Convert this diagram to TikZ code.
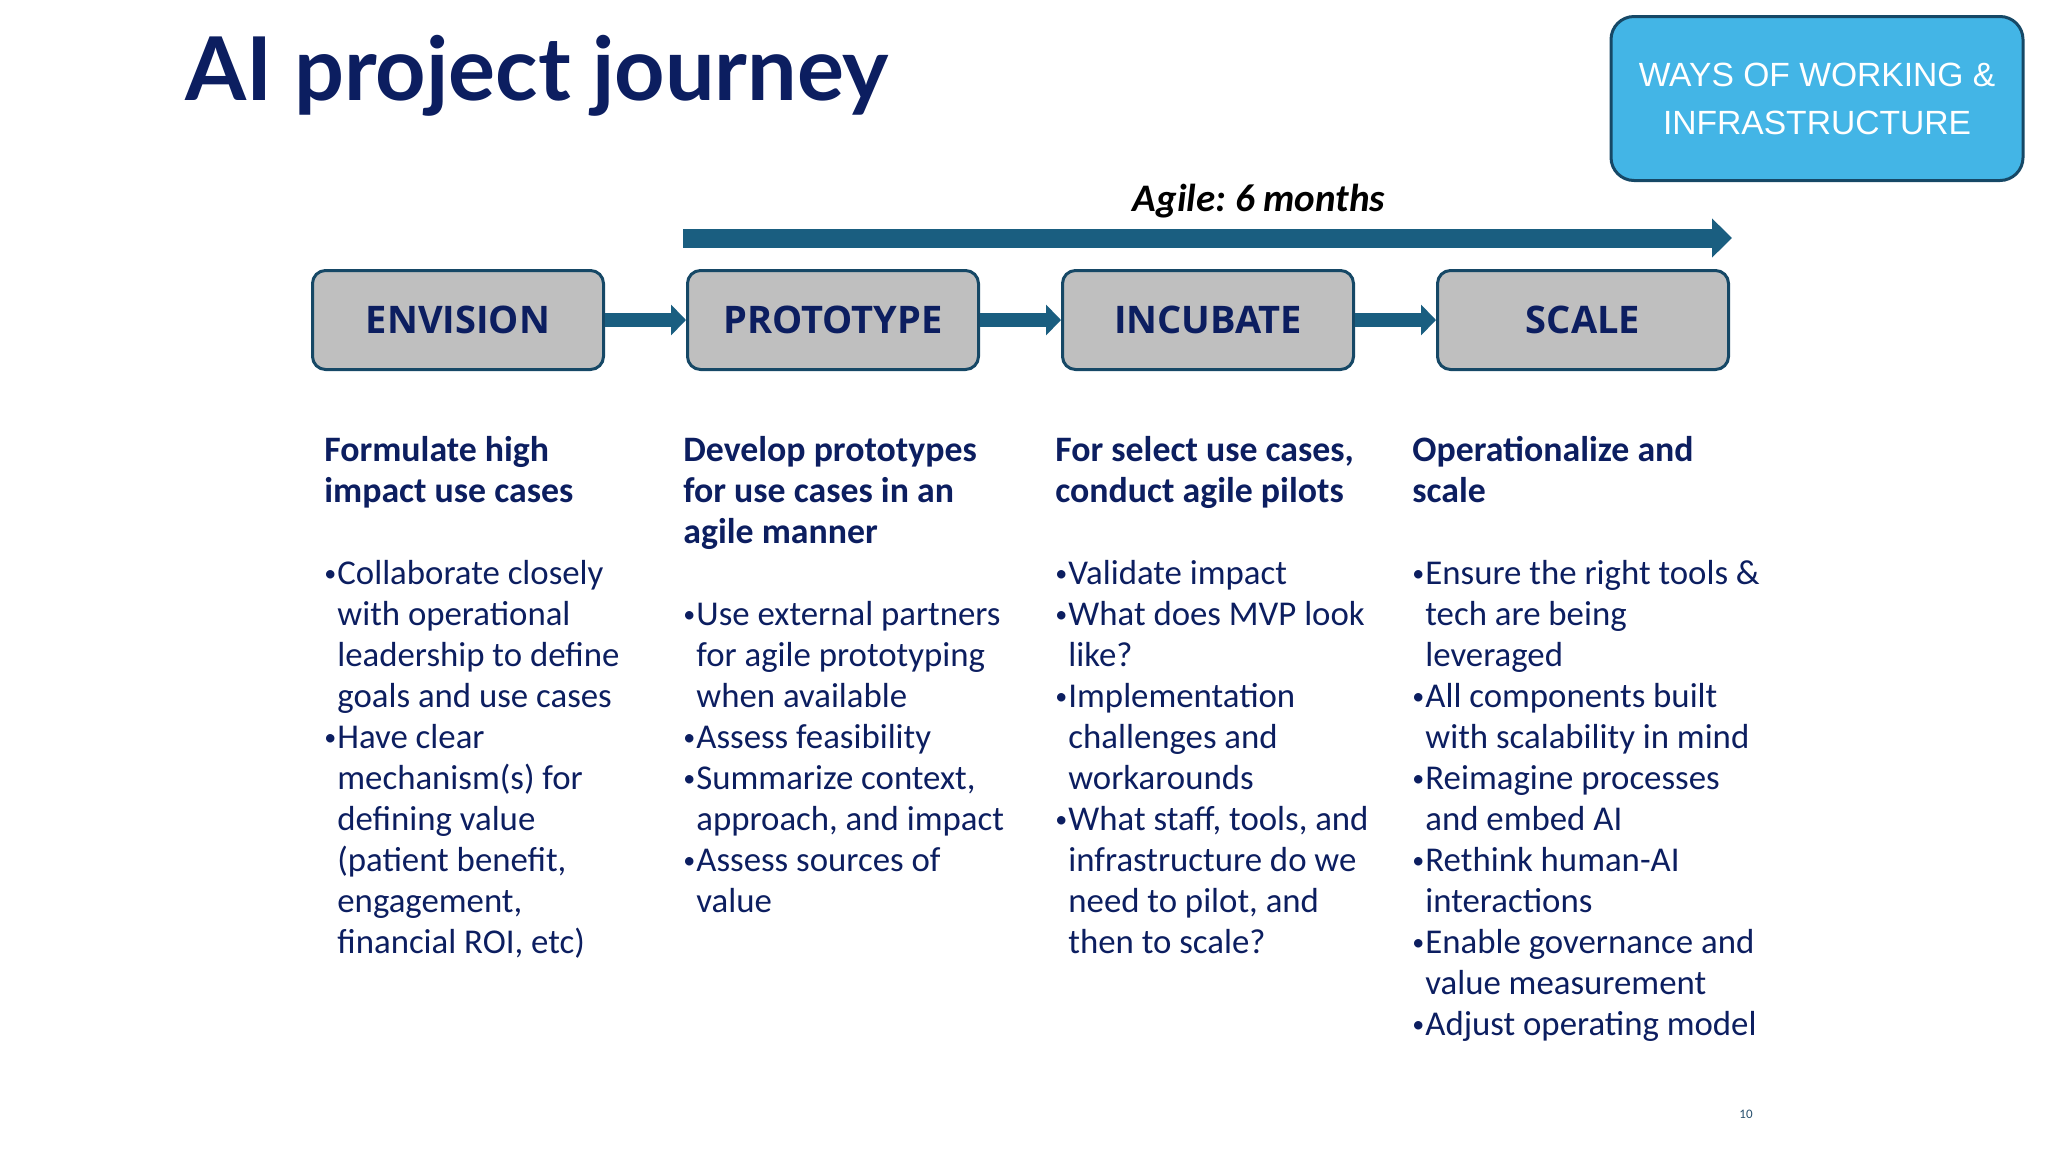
\documentclass[tikz,border=0pt]{standalone}
\usepackage{fontspec}
\setmainfont{Carlito}
\newfontfamily\titlefont{Lato}
\newfontfamily\boxfont{Open Sans}
\newfontfamily\wayfont{Liberation Sans}
\usetikzlibrary{positioning, arrows.meta}
\definecolor{navy}{RGB}{12,30,96}
\definecolor{edgeteal}{RGB}{22,72,102}
\definecolor{flowblue}{RGB}{26,94,128}
\definecolor{boxgray}{RGB}{191,191,191}
\definecolor{skyblue}{RGB}{67,181,230}
\definecolor{pagegray}{RGB}{40,80,110}
\tikzstyle{phase}=[draw=edgeteal, fill=boxgray, line width=1.5pt, rounded corners=6.5pt,
  minimum width=145.5pt, minimum height=49.5pt, text=navy,
  font=\boxfont\bfseries\fontsize{19}{22}\selectfont]
\tikzstyle{ways}=[draw=edgeteal, fill=skyblue, line width=1.5pt, rounded corners=11.5pt,
  minimum width=206pt, minimum height=82pt, align=center, text=white,
  font=\wayfont\fontsize{16.8}{24}\selectfont]
\tikzstyle{flow}=[draw=flowblue, line width=7pt, -{Triangle[length=7.5pt, width=15pt]}]
\tikzstyle{bigflow}=[draw=flowblue, line width=9.5pt, -{Triangle[length=10pt, width=19pt]}]
\tikzstyle{col}=[anchor=north west, align=left, inner sep=0pt, text=navy,
  font=\fontsize{17.4}{20.5}\selectfont]
\newcommand{\bul}{\makebox[6.5pt][l]{\raisebox{1.2pt}{\fontsize{12}{12}\selectfont\textbullet}}}
\newcommand{\ind}{\hspace*{6.5pt}}
\newcommand{\hd}[1]{{\bfseries\fontsize{17.9}{20.5}\selectfont #1}}

\begin{document}
\begin{tikzpicture}[x=0.5pt, y=-0.5pt, node distance=40.5pt]
  \useasboundingbox (0,0) rectangle (2048,1152);
  \node[anchor=base west, inner sep=0pt, text=navy,
    font=\titlefont\bfseries\fontsize{44}{44}\selectfont] (title) at (185,100) {AI project journey};
  \node[ways] (wow) at (1817,98.5) {WAYS OF WORKING \&\\INFRASTRUCTURE};

  % phases
  \node[phase] (E) at (458,320) {ENVISION};
  \node[phase, right=of E] (P) {PROTOTYPE};
  \node[phase, right=of P] (In) {INCUBATE};
  \node[phase, right=of In] (S) {SCALE};
  \draw[flow] (E) -- (P);
  \draw[flow] (P) -- (In);
  \draw[flow] (In) -- (S);

  % agile timeline
  \coordinate (agileS) at (683,238);
  \coordinate (agileE) at (1732,238);
  \draw[bigflow] (agileS) -- (agileE);
  \node[anchor=base, inner sep=0pt, font=\bfseries\itshape\fontsize{19.5}{22}\selectfont]
    (agile) at (1259,211) {Agile:\ 6 months};

  % descriptions
  \node[col] (cE) at (324,432) {%
    \strut\hd{Formulate high}\\
    \hd{impact use cases}\\
    \mbox{}\\
    \bul Collaborate closely\\
    \ind with operational\\
    \ind leadership to define\\
    \ind goals and use cases\\
    \bul Have clear\\
    \ind mechanism(s) for\\
    \ind defining value\\
    \ind (patient benefit,\\
    \ind engagement,\\
    \ind financial ROI, etc)};
  \node[col] (cP) at (683,432) {%
    \strut\hd{Develop prototypes}\\
    \hd{for use cases in an}\\
    \hd{agile manner}\\
    \mbox{}\\
    \bul Use external partners\\
    \ind for agile prototyping\\
    \ind when available\\
    \bul Assess feasibility\\
    \bul Summarize context,\\
    \ind approach, and impact\\
    \bul Assess sources of\\
    \ind value};
  \node[col] (cIn) at (1055,432) {%
    \strut\hd{For select use cases,}\\
    \hd{conduct agile pilots}\\
    \mbox{}\\
    \bul Validate impact\\
    \bul What does MVP look\\
    \ind like?\\
    \bul Implementation\\
    \ind challenges and\\
    \ind workarounds\\
    \bul What staff, tools, and\\
    \ind infrastructure do we\\
    \ind need to pilot, and\\
    \ind then to scale?};
  \node[col] (cS) at (1412,432) {%
    \strut\hd{Operationalize and}\\
    \hd{scale}\\
    \mbox{}\\
    \bul Ensure the right tools \&\\
    \ind tech are being\\
    \ind leveraged\\
    \bul All components built\\
    \ind with scalability in mind\\
    \bul Reimagine processes\\
    \ind and embed AI\\
    \bul Rethink human-AI\\
    \ind interactions\\
    \bul Enable governance and\\
    \ind value measurement\\
    \bul Adjust operating model};

  \node[inner sep=0pt, text=pagegray, font=\fontsize{6.5}{7}\selectfont] (pg) at (1746,1114) {10};
\end{tikzpicture}
\end{document}
